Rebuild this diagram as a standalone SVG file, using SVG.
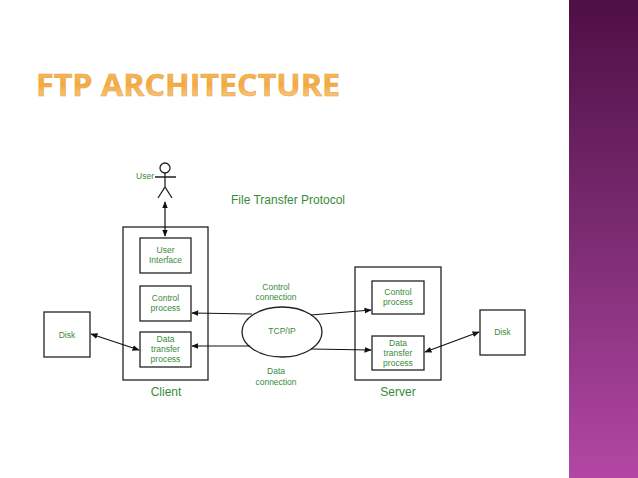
<svg xmlns="http://www.w3.org/2000/svg" width="638" height="478" viewBox="0 0 638 478">
<defs>
<linearGradient id="side" x1="0" y1="0" x2="0" y2="1"><stop offset="0" stop-color="#4e0f45"/><stop offset="0.5" stop-color="#7c2c72"/><stop offset="1" stop-color="#b247a4"/></linearGradient>
<linearGradient id="tg" x1="0" y1="0" x2="0" y2="1"><stop offset="0" stop-color="#f6c67a"/><stop offset="0.5" stop-color="#f3a93e"/><stop offset="1" stop-color="#fad9a0"/></linearGradient>
<marker id="ah" viewBox="0 0 10 10" refX="9" refY="5" markerWidth="6" markerHeight="6" orient="auto-start-reverse"><path d="M0,1 L10,5 L0,9 z" fill="#111"/></marker>
</defs>
<style>
.b{fill:#fff;stroke:#222;stroke-width:1.3}
.t{font-family:"Liberation Sans",Arial,sans-serif;font-size:8.5px;fill:#3a8a3a;text-anchor:middle}
.L{font-size:12px}
.c{stroke:#111;stroke-width:1.2;fill:none;marker-end:url(#ah)}
</style>
<rect width="638" height="478" fill="#fff"/>
<rect x="569" y="0" width="69" height="478" fill="url(#side)"/>
<text x="36" y="96" font-family="'Open Sans',sans-serif" font-weight="bold" font-size="31" fill="url(#tg)" stroke="#e9a040" stroke-width="0.5" textLength="304" lengthAdjust="spacingAndGlyphs">FTP ARCHITECTURE</text>
<g id="user"><circle cx="165" cy="168" r="5" class="b"/><path d="M165,173 V187 M155,177 H176 M158,198 L165,187 L172,198" stroke="#222" stroke-width="1.3" fill="none"/><text class="t" x="145" y="179">User</text></g>
<text class="t L" x="288" y="204">File Transfer Protocol</text>
<g id="client"><rect class="b" x="123" y="227" width="85" height="153"/><text class="t L" x="166" y="396">Client</text></g>
<g id="ui"><rect class="b" x="140" y="238" width="51" height="35"/><text class="t" x="165.5" y="253">User</text><text class="t" x="165.5" y="263">Interface</text></g>
<g id="cp"><rect class="b" x="140" y="286" width="51" height="35"/><text class="t" x="165.5" y="301">Control</text><text class="t" x="165.5" y="311">process</text></g>
<g id="dtp"><rect class="b" x="140" y="332" width="51" height="35"/><text class="t" x="165.5" y="342">Data</text><text class="t" x="165.5" y="352">transfer</text><text class="t" x="165.5" y="362">process</text></g>
<g id="disk1"><rect class="b" x="44" y="312" width="46" height="45"/><text class="t" x="67" y="338">Disk</text></g>
<g id="tcp"><ellipse class="b" cx="282" cy="332" rx="40" ry="25"/><text class="t" x="282" y="334">TCP/IP</text></g>
<g id="server"><rect class="b" x="355" y="267" width="86" height="113"/><text class="t L" x="398" y="396">Server</text></g>
<g id="scp"><rect class="b" x="372" y="281" width="52" height="33"/><text class="t" x="398" y="295">Control</text><text class="t" x="398" y="305">process</text></g>
<g id="sdtp"><rect class="b" x="372" y="336" width="52" height="34"/><text class="t" x="398" y="346">Data</text><text class="t" x="398" y="356">transfer</text><text class="t" x="398" y="366">process</text></g>
<g id="disk2"><rect class="b" x="480" y="310" width="45" height="45"/><text class="t" x="502.5" y="335">Disk</text></g>
<text class="t" x="276" y="290">Control</text><text class="t" x="276" y="300">connection</text>
<text class="t" x="276" y="374">Data</text><text class="t" x="276" y="385">connection</text>
<g id="connectors">
<path class="c" d="M165,202 V236" marker-start="url(#ah)"/>
<path class="c" d="M252,314 L192,313"/>
<path class="c" d="M250,346 L192,346"/>
<path class="c" d="M91,334 L139,350" marker-start="url(#ah)"/>
<path class="c" d="M311,315 L371,310"/>
<path class="c" d="M311,349 L371,350"/>
<path class="c" d="M425,352 L479,332" marker-start="url(#ah)"/>
</g>
</svg>
